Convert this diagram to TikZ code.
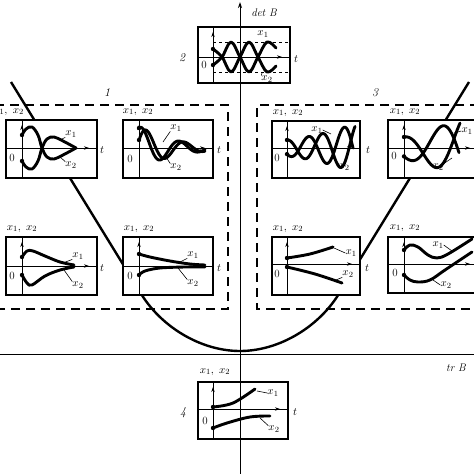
\documentclass[tikz,border=0pt]{standalone}
\usetikzlibrary{arrows.meta}
\newcommand\drawpanel[6]{%
  \draw[frame] (#1,#2) rectangle (#3,#4);
  \draw[inax] (#1,#6) -- (#3,#6);
  \draw[inax] (#5,#2) -- (#5,#4);
  \draw[tipax] (#5,#6) -- ({#3-8},#6);
  \draw[tipax] (#5,#6) -- (#5,{#2+5});
}
\begin{document}
\begin{tikzpicture}[x=1pt,y=-1pt,
  frame/.style={draw, line width=1.7pt, fill=white},
  inax/.style={line width=0.8pt},
  tipax/.style={-{Stealth[length=5pt,width=3.4pt]}, line width=0.8pt},
  crv/.style={line width=2.9pt, line cap=round, line join=round},
  lead/.style={line width=0.6pt},
  dsh/.style={line width=1.8pt, dash pattern=on 9pt off 6pt},
  lbl/.style={font=\fontsize{11}{13}\selectfont, inner sep=0pt},
  num/.style={font=\fontsize{12}{14}\selectfont\itshape, inner sep=0pt},
  dot/.style={fill=black}
]
\useasboundingbox (0,0) rectangle (474,474);
\fill[white] (0,0) rectangle (474,474);

% parabola
\draw[line width=2.4pt] (11,82) -- (140,292) .. controls (160,326) and (200,351) .. (240,351)
  .. controls (280,351) and (320,326) .. (340,292) -- (469,82);

% dashed regions
\draw[dsh] (-20,105) -- (228,105) -- (228,309) -- (-20,309);
\draw[dsh] (494,105) -- (257,105) -- (257,309) -- (494,309);
\node[num] (n1) at (107,93) {1};
\node[num] (n3) at (375,93) {3};
\node[num] (n2) at (182,58) {2};
\node[num] (n4) at (183,413) {4};

% panels
\drawpanel{6}{120}{97}{178}{22}{148}
\drawpanel{123}{120}{213}{178}{139}{148}
\drawpanel{6}{237}{97}{295}{22}{266}
\drawpanel{123}{237}{213}{295}{139}{266}
\drawpanel{198}{27}{290}{83}{213}{57}
\drawpanel{272}{121}{360}{178}{287}{148}
\drawpanel{388}{120}{478}{178}{404}{148}
\drawpanel{272}{237}{360}{295}{287}{264}
\drawpanel{388}{237}{478}{293}{404}{264}
\drawpanel{198}{382}{288}{439}{213}{409}

% ---- panel 1a
\draw[crv] plot[smooth,tension=0.6] coordinates {(22,135) (26,129) (32,127) (38,135) (42,148) (47,157) (54,159) (63,155) (76,148)};
\draw[crv] plot[smooth,tension=0.6] coordinates {(22,161) (26,167) (32,169) (38,161) (42,148) (47,139) (54,137) (63,141) (76,148)};
\fill[dot] (22,135) circle (2.2); \fill[dot] (22,161) circle (2.2);
\node[lbl] (a1) at (71,134) {$x_1$}; \draw[lead] (a1.south west) -- (60,140);
\node[lbl] (a2) at (71,165) {$x_2$}; \draw[lead] (a2.north west) -- (60,157);
\node[lbl,anchor=east] (at) at (24,112) {$x_1,\ x_2$};
\node[lbl] (a0) at (12,158) {0};
\node[lbl] (att) at (102,150) {$t$};

% ---- panel 1b
\draw[crv] plot[domain=0:66,samples=80,variable=\s] ({139+\s},{148-22*exp(-\s/35)*cos(9.5*\s-25)});
\draw[crv] plot[domain=0:66,samples=80,variable=\s] ({139+\s},{148-22*exp(-\s/35)*cos(9.5*\s-70)});
\fill[dot] (139,128) circle (2.2); \fill[dot] (139,140) circle (2.2);
\node[lbl] (b1) at (176,128) {$x_1$}; \draw[lead] (b1.south west) -- (163,142);
\node[lbl] (b2) at (176,167) {$x_2$}; \draw[lead] (b2.north west) -- (166,157);
\node[lbl] (bt) at (138,112) {$x_1,\ x_2$};
\node[lbl] (b0) at (130,159) {0};
\node[lbl] (btt) at (219,150) {$t$};

% ---- panel 1c
\draw[crv] plot[smooth,tension=0.6] coordinates {(22,257) (27,251) (33,251) (45,256) (60,262) (74,265)};
\draw[crv] plot[smooth,tension=0.6] coordinates {(22,275) (27,283) (32,285) (45,276) (60,270) (74,267)};
\fill[dot] (22,257) circle (2.2); \fill[dot] (22,275) circle (2.2);
\node[lbl] (c1) at (78,256) {$x_1$}; \draw[lead] (c1.south west) -- (63,263);
\node[lbl] (c2) at (78,285) {$x_2$}; \draw[lead] (c2.north west) -- (64,270);
\node[lbl] (ct) at (22,229) {$x_1,\ x_2$};
\node[lbl] (c0) at (12,276) {0};
\node[lbl] (ctt) at (102,268) {$t$};

% ---- panel 1d
\draw[crv] plot[smooth,tension=0.6] coordinates {(139,254) (150,257) (170,261) (190,264) (205,265)};
\draw[crv] plot[smooth,tension=0.6] coordinates {(139,275) (145,271) (160,268) (185,267) (205,267)};
\fill[dot] (139,254) circle (2.2); \fill[dot] (139,275) circle (2.2);
\node[lbl] (d1) at (193,255) {$x_1$}; \draw[lead] (d1.south west) -- (178,263);
\node[lbl] (d2) at (193,283) {$x_2$}; \draw[lead] (d2.north west) -- (178,268);
\node[lbl] (dt) at (139,229) {$x_1,\ x_2$};
\node[lbl] (d0) at (130,276) {0};
\node[lbl] (dtt) at (219,268) {$t$};

% ---- panel 2
\draw[lead, dashed] (213,42) -- (290,42);
\draw[lead, dashed] (213,72) -- (290,72);
\draw[crv] plot[smooth,tension=0.6] coordinates {(213,49) (222,57) (231,72) (240,57) (249,42) (258,57) (267,72) (276,66)};
\draw[crv] plot[smooth,tension=0.6] coordinates {(213,65) (222,57) (231,42) (240,57) (249,72) (258,57) (267,42) (276,48)};
\fill[dot] (213,49) circle (2.2); \fill[dot] (213,65) circle (2.2);
\node[lbl] (e1) at (263,34) {$x_1$};
\node[lbl] (e2) at (267,79) {$x_2$}; \draw[lead] (e2.north west) -- (262,73);
\node[lbl] (e0) at (204,65) {0};
\node[lbl] (ett) at (296,59) {$t$};

% ---- panel 3a
\draw[crv] plot[domain=0:68,samples=90,variable=\s] ({287+\s},{148-8*exp(\s/60)*cos(10.15*\s)});
\draw[crv] plot[domain=0:66,samples=90,variable=\s] ({287+\s},{148+8*exp(\s/60)*cos(10.15*\s-40)});
\fill[dot] (287,140) circle (2.2); \fill[dot] (287,154.1) circle (2.2);
\node[lbl] (f1) at (317,130) {$x_1$}; \draw[lead] (f1.east) -- (331,134);
\node[lbl] (f2) at (344,167) {$x_2$}; \draw[lead] (f2.north west) -- (333,158);
\node[lbl] (ft) at (288,113) {$x_1,\ x_2$};
\node[lbl] (f0) at (277,158) {0};
\node[lbl] (ftt) at (368,150) {$t$};

% ---- panel 3b
\draw[crv] plot[domain=0:56,samples=80,variable=\s] ({404+\s},{148-11*exp(\s/55)*cos(5.8*\s)});
\draw[crv] plot[domain=0:55,samples=80,variable=\s] ({404+\s},{148+11*exp(\s/55)*cos(5.8*\s-40)});
\fill[dot] (404,137) circle (2.2); \fill[dot] (404,156.4) circle (2.2);
\node[lbl] (g1) at (467,131) {$x_1$}; \draw[lead] (g1.west) -- (454,133);
\node[lbl] (g2) at (438,167) {$x_2$}; \draw[lead] (g2.north east) -- (452,158);
\node[lbl] (gt) at (405,112) {$x_1,\ x_2$};
\node[lbl] (g0) at (394,156) {0};

% ---- panel 3c
\draw[crv] plot[smooth,tension=0.6] coordinates {(287,258) (310,254) (333,247)};
\draw[crv] plot[smooth,tension=0.6] coordinates {(287,267) (315,274) (342,283)};
\fill[dot] (287,258) circle (2.2); \fill[dot] (287,267) circle (2.2);
\node[lbl] (h1) at (351,253) {$x_1$}; \draw[lead] (h1.west) -- (334,248);
\node[lbl] (h2) at (348,274) {$x_2$}; \draw[lead] (h2.south west) -- (336,280);
\node[lbl] (ht) at (288,229) {$x_1,\ x_2$};
\node[lbl] (h0) at (277,274) {0};
\node[lbl] (htt) at (367,268) {$t$};

% ---- panel 3d
\draw[crv] plot[smooth,tension=0.6] coordinates {(404,250) (410,245) (418,247) (428,255) (437,258) (448,254) (472,239)};
\draw[crv] plot[smooth,tension=0.6] coordinates {(404,275) (410,280) (418,282) (430,280) (445,270) (472,252)};
\fill[dot] (404,250) circle (2.2); \fill[dot] (404,275) circle (2.2);
\node[lbl] (k1) at (438,245) {$x_1$}; \draw[lead] (k1.east) -- (452,251);
\node[lbl] (k2) at (446,285) {$x_2$}; \draw[lead] (k2.west) -- (433,280);
\node[lbl] (kt) at (405,228) {$x_1,\ x_2$};
\node[lbl] (k0) at (395,273) {0};

% ---- panel 4
\draw[crv] plot[smooth,tension=0.6] coordinates {(213,407) (233,403) (255,389)};
\draw[crv] plot[smooth,tension=0.6] coordinates {(213,428) (227,423) (250,417) (270,416)};
\fill[dot] (213,407) circle (2.2); \fill[dot] (213,428) circle (2.2);
\node[lbl] (m1) at (273,393) {$x_1$}; \draw[lead] (m1.west) -- (257,391);
\node[lbl] (m2) at (274,429) {$x_2$}; \draw[lead] (m2.north west) -- (260,418);
\node[lbl] (mt) at (215,372) {$x_1,\ x_2$};
\node[lbl] (m0) at (205,421) {0};
\node[lbl] (mtt) at (295,412) {$t$};

% main axes
\coordinate (dbot) at (240,474);
\coordinate (dtop) at (240,2);
\coordinate (tl) at (0,354);
\coordinate (tr) at (474,354);
\draw[line width=1pt, -{Stealth[length=6pt,width=4pt]}] (dbot) -- (dtop);
\draw[line width=1pt] (tl) -- (tr);
\node[num, font=\fontsize{11}{13}\selectfont\itshape] (detb) at (264,13) {det B};
\node[num, font=\fontsize{11}{13}\selectfont\itshape] (trb) at (456,368) {tr B};
\end{tikzpicture}
\end{document}
